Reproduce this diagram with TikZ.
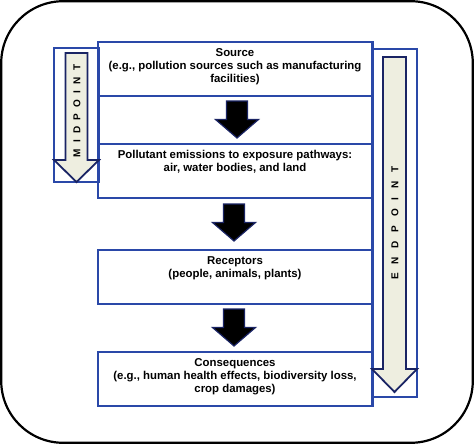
\documentclass[tikz,border=0pt]{standalone}
\usepackage{fontspec}
\setmainfont{Liberation Sans}
\usepackage{xcolor}
\usetikzlibrary{positioning}
\definecolor{boxblue}{RGB}{42,72,168}
\definecolor{navy}{RGB}{26,36,100}
\definecolor{pale}{RGB}{238,238,224}

\begin{document}
\begin{tikzpicture}[x=1pt, y=-1pt,
    stage/.style={draw=boxblue, line width=1.8pt, minimum width=274pt, minimum height=54pt, inner sep=0pt},
    stagetext/.style={font=\bfseries\fontsize{11.4}{13}\selectfont, align=center, inner sep=0pt},
    flow/.style={fill=black, draw=navy, line width=1.2pt},
    span/.style={fill=pale, draw=navy, line width=1.8pt},
    frame/.style={draw=boxblue, line width=1.8pt},
    tag/.style={font=\bfseries\fontsize{10}{12}\selectfont, rotate=90, inner sep=0pt}]
    \useasboundingbox (0,0) rectangle (474,444);
    \fill[white] (0,0) rectangle (474,444);

    % Outer frame
    \draw[line width=2.2pt, rounded corners=62pt] (1.2,1.2) rectangle (472.8,442.8);

    % Stages
    \node[stage] (src) at (235,69) {};
    \node[stage, minimum height=48pt] (gap) at (235,120) {};
    \node[stage] (pol) at (235,171) {};
    \node[stage] (rec) at (235,277) {};
    \node[stage] (con) at (235,379) {};
    \draw[frame] (src.north east) -- (con.south east);

    \node[stagetext, below=7pt of src.north] (srctext) {Source\\(e.g., pollution sources such as manufacturing\\facilities)};
    \node[stagetext, below=7pt of pol.north] (poltext) {Pollutant emissions to exposure pathways:\\air, water bodies, and land};
    \node[stagetext, below=7pt of rec.north] (rectext) {Receptors\\(people, animals, plants)};
    \node[stagetext, below=7pt of con.north] (context) {Consequences\\(e.g., human health effects, biodiversity loss,\\crop damages)};

    % Block arrows between stages
    \foreach \cx/\yt in {237/101, 234/204, 234/309} {
        \draw[flow] (\cx-10.5,\yt) -- (\cx+10.5,\yt) -- (\cx+10.5,\yt+18.5) -- (\cx+21.5,\yt+18.5)
            -- (\cx,\yt+37) -- (\cx-21.5,\yt+18.5) -- (\cx-10.5,\yt+18.5) -- cycle;
    }

    % Midpoint
    \draw[frame] (54,48) rectangle (99,182);
    \draw[span] (65.5,53) -- (87.5,53) -- (87.5,160) -- (99,160) -- (76.5,182) -- (54,160) -- (65.5,160) -- cycle;
    \node[tag] (mid) at (77,111) {\addfontfeature{LetterSpace=62}MIDPOINT};

    % Endpoint
    \draw[frame] (372,49) rectangle (417,397);
    \draw[span] (383,57) -- (406,57) -- (406,369) -- (417,369) -- (394.5,392) -- (372,369) -- (383,369) -- cycle;
    \node[tag] (end) at (395,223) {\addfontfeature{LetterSpace=88}ENDPOINT};
\end{tikzpicture}
\end{document}
